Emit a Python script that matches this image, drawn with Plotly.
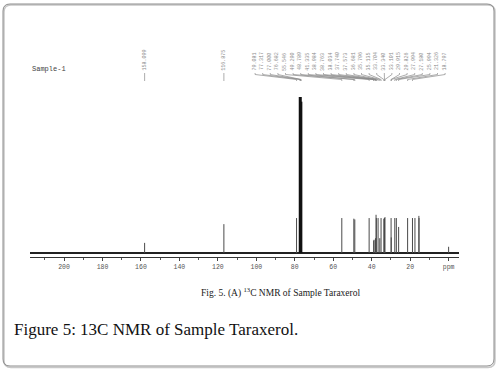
import numpy as np
import plotly.graph_objects as go

W, H = 497, 370

# ---- data -------------------------------------------------------------
peak_ppm = [158.099, 116.875, 79.081, 77.317, 77.000, 76.682, 55.546, 49.290,
            48.789, 41.335, 38.984, 38.763, 38.034, 37.740, 37.573, 36.681,
            35.796, 35.135, 33.704, 33.340, 33.101, 29.915, 29.826, 27.994,
            27.180, 25.994, 21.326, 18.797, 17.506, 15.461, 15.397, 0.000]
peak_height = [6.5, 18.5, 22.4, 100.0, 100.0, 97.0, 22.4, 22.0,
               21.5, 22.4, 8.0, 8.5, 9.5, 24.5, 22.4, 22.4,
               9.5, 22.4, 22.0, 22.4, 23.0, 22.4, 10.0, 22.4,
               22.4, 16.7, 22.4, 22.4, 22.4, 23.8, 22.4, 4.0]

single_labels = ["158.099", "116.875"]
group_labels = ["79.081", "77.317", "77.000", "76.682", "55.546", "49.290",
                "48.789", "41.335", "38.984", "38.763", "38.034", "37.740",
                "37.573", "36.681", "35.796", "35.135", "33.704", "33.340",
                "33.101", "29.915", "29.826", "27.994", "27.180", "25.994",
                "21.326", "18.797"]

tick_vals = [200, 180, 160, 140, 120, 100, 80, 60, 40, 20, 0]
tick_text = ["200", "180", "160", "140", "120", "100", "80", "60", "40", "20", "ppm"]

sample_name = "Sample-1"
inner_caption = "Fig. 5. (A) <sup>13</sup>C NMR of Sample Taraxerol"
outer_caption = "Figure 5: 13C NMR of Sample Taraxerol."

# ---- geometry helpers (pixels -> paper) ------------------------------
def px(x):
    return x / W

def py(y):
    return 1 - y / H

X_RANGE = [217.7, -5.4]

fig = go.Figure()

# baseline
fig.add_trace(go.Scatter(x=X_RANGE, y=[0, 0], mode="lines",
                         line=dict(color="#222222", width=1.8),
                         hoverinfo="skip", showlegend=False))

# stick peaks
xs, ys = [], []
xs_t, ys_t = [], []
for p, h in zip(peak_ppm, peak_height):
    if h > 50:
        xs_t += [p, p, None]
        ys_t += [0, h, None]
    else:
        xs += [p, p, None]
        ys += [0, h, None]
fig.add_trace(go.Scatter(x=xs, y=ys, mode="lines",
                         line=dict(color="#4a4a4a", width=1, simplify=False),
                         hoverinfo="skip", showlegend=False))
fig.add_trace(go.Scatter(x=xs_t, y=ys_t, mode="lines",
                         line=dict(color="#111111", width=2.4, simplify=False),
                         hoverinfo="skip", showlegend=False))

# peak label connectors (on y2, top region)
label_font = dict(family="Liberation Mono, DejaVu Sans Mono, monospace",
                  size=5, color="#8c8c8c")
annotations = []
cx, cy = [], []
for lab in single_labels:
    v = float(lab)
    cx += [v, v, None]
    cy += [11, 3, None]
    annotations.append(dict(x=v, y=11.6, xref="x", yref="y2", text=lab,
                            textangle=-90, showarrow=False, xanchor="center",
                            yanchor="bottom", font=label_font))

# group label x positions: evenly spread between pixel 255 and 445
def pix_to_ppm(xp):
    return 200 - (xp - 64) / 1.9225

lab_x = np.linspace(pix_to_ppm(255), pix_to_ppm(445), len(group_labels))
for lx, lab in zip(lab_x, group_labels):
    v = float(lab)
    cx += [lx, lx, v, v, None]
    cy += [11, 9.5, 4.5, 3, None]
    annotations.append(dict(x=lx, y=11.6, xref="x", yref="y2", text=lab,
                            textangle=-90, showarrow=False, xanchor="center",
                            yanchor="bottom", font=label_font))
fig.add_trace(go.Scatter(x=cx, y=cy, mode="lines", yaxis="y2",
                         line=dict(color="#8a8a8a", width=0.7),
                         hoverinfo="skip", showlegend=False))

annotations.append(dict(x=px(30), y=py(69), xref="paper", yref="paper",
                        text=sample_name, showarrow=False, xanchor="left",
                        yanchor="middle",
                        font=dict(family="Liberation Mono, monospace",
                                  size=7, color="#444444")))
annotations.append(dict(x=px(280), y=py(292), xref="paper", yref="paper",
                        text=inner_caption, showarrow=False, xanchor="center",
                        yanchor="middle",
                        font=dict(family="Liberation Serif, serif",
                                  size=9.5, color="#1a1a1a")))
annotations.append(dict(x=px(12), y=py(329), xref="paper", yref="paper",
                        text=outer_caption, showarrow=False, xanchor="left",
                        yanchor="middle",
                        font=dict(family="Liberation Serif, serif",
                                  size=17, color="#111111")))

# rounded border
def rounded(x0, y0, x1, y1, r):
    return (f"M {px(x0 + r)},{py(y0)} L {px(x1 - r)},{py(y0)} "
            f"Q {px(x1)},{py(y0)} {px(x1)},{py(y0 + r)} "
            f"L {px(x1)},{py(y1 - r)} Q {px(x1)},{py(y1)} {px(x1 - r)},{py(y1)} "
            f"L {px(x0 + r)},{py(y1)} Q {px(x0)},{py(y1)} {px(x0)},{py(y1 - r)} "
            f"L {px(x0)},{py(y0 + r)} Q {px(x0)},{py(y0)} {px(x0 + r)},{py(y0)} Z")

shapes = [
    dict(type="path", xref="paper", yref="paper", path=rounded(4, 5, 495, 367.5, 7),
         line=dict(color="#c8c8c8", width=1.5), layer="below"),
    dict(type="path", xref="paper", yref="paper", path=rounded(3, 4, 494, 366, 7),
         line=dict(color="#8c8c8c", width=1), layer="below"),
]

fig.update_layout(
    width=W, height=H,
    margin=dict(l=0, r=0, t=0, b=0),
    paper_bgcolor="white", plot_bgcolor="white",
    showlegend=False,
    xaxis=dict(domain=[px(30), px(459)], range=X_RANGE, showgrid=False,
               zeroline=False, showline=True, linecolor="#333333", linewidth=1,
               ticks="outside", ticklen=3, tickcolor="#444444",
               tickmode="array", tickvals=tick_vals, ticktext=tick_text,
               tickfont=dict(family="Liberation Mono, monospace", size=6.5,
                             color="#555555"),
               minor=dict(tickmode="linear", tick0=0, dtick=10,
                          ticks="outside", ticklen=2, tickcolor="#555555"),
               fixedrange=True),
    yaxis=dict(domain=[py(257), py(97)], range=[-2.56, 100], visible=False,
               fixedrange=True),
    yaxis2=dict(domain=[py(84), py(40)], range=[0, 44], visible=False,
                anchor="x", fixedrange=True),
    annotations=annotations,
    shapes=shapes,
)

fig.write_html("out.html",
               config={"displayModeBar": False},
               post_script="document.body.style.margin='0';"
                           "document.body.style.overflow='hidden';")
